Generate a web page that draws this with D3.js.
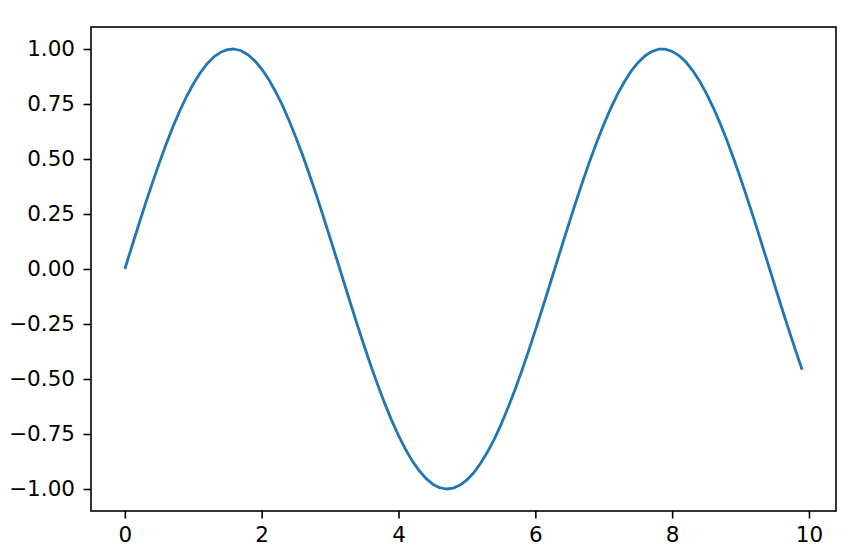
<!DOCTYPE html>
<html>
<head>
<meta charset="utf-8">
<script src="https://cdn.jsdelivr.net/npm/d3@7"></script>
<style>
  body { margin: 0; background: #fff; }
  svg { display: block; }
  .tick text { font-family: "DejaVu Sans", sans-serif; font-size: 21.5px; fill: #000; }
</style>
</head>
<body>
<div id="chart"></div>
<script>
// values, one sample every 0.1 on x
var xValues = [0.0, 0.1, 0.2, 0.3, 0.4, 0.5, 0.6, 0.7, 0.8, 0.9,
    1.0, 1.1, 1.2, 1.3, 1.4, 1.5, 1.6, 1.7, 1.8, 1.9,
    2.0, 2.1, 2.2, 2.3, 2.4, 2.5, 2.6, 2.7, 2.8, 2.9,
    3.0, 3.1, 3.2, 3.3, 3.4, 3.5, 3.6, 3.7, 3.8, 3.9,
    4.0, 4.1, 4.2, 4.3, 4.4, 4.5, 4.6, 4.7, 4.8, 4.9,
    5.0, 5.1, 5.2, 5.3, 5.4, 5.5, 5.6, 5.7, 5.8, 5.9,
    6.0, 6.1, 6.2, 6.3, 6.4, 6.5, 6.6, 6.7, 6.8, 6.9,
    7.0, 7.1, 7.2, 7.3, 7.4, 7.5, 7.6, 7.7, 7.8, 7.9,
    8.0, 8.1, 8.2, 8.3, 8.4, 8.5, 8.6, 8.7, 8.8, 8.9,
    9.0, 9.1, 9.2, 9.3, 9.4, 9.5, 9.6, 9.7, 9.8, 9.9];

var yValues = [0.000, 0.100, 0.199, 0.296, 0.389, 0.479, 0.565, 0.644, 0.717, 0.783,
    0.841, 0.891, 0.932, 0.964, 0.985, 0.997, 1.000, 0.992, 0.974, 0.946,
    0.909, 0.863, 0.808, 0.746, 0.675, 0.598, 0.516, 0.427, 0.335, 0.239,
    0.141, 0.042, -0.058, -0.158, -0.256, -0.351, -0.443, -0.530, -0.612, -0.688,
    -0.757, -0.818, -0.872, -0.916, -0.952, -0.978, -0.994, -1.000, -0.996, -0.982,
    -0.959, -0.926, -0.883, -0.832, -0.773, -0.706, -0.631, -0.551, -0.465, -0.374,
    -0.279, -0.182, -0.083, 0.017, 0.117, 0.215, 0.312, 0.405, 0.494, 0.578,
    0.657, 0.729, 0.794, 0.850, 0.899, 0.938, 0.968, 0.988, 0.999, 0.999,
    0.989, 0.970, 0.941, 0.902, 0.855, 0.798, 0.734, 0.663, 0.585, 0.501,
    0.412, 0.319, 0.223, 0.124, 0.025, -0.075, -0.175, -0.272, -0.366, -0.458];

var xTicks = [0, 2, 4, 6, 8, 10];
var yTicks = [-1.00, -0.75, -0.50, -0.25, 0.00, 0.25, 0.50, 0.75, 1.00];

var width = 853, height = 556;
var margin = { top: 27, right: 17, bottom: 45, left: 91 };

var svg = d3.select("#chart").append("svg").attr("width", width).attr("height", height);

var data = xValues.map(function(x, i) { return [x, yValues[i]]; });

// matplotlib style: 5% padding around the data range
var xPad = (9.9 - 0) * 0.05;
var yPad = (1 - -1) * 0.05;
var xScale = d3.scaleLinear().domain([0 - xPad, 9.9 + xPad]).range([margin.left, width - margin.right]);
var yScale = d3.scaleLinear().domain([-1 - yPad, 1 + yPad]).range([height - margin.bottom, margin.top]);

var line = d3.line().x(d => xScale(d[0])).y(d => yScale(d[1]));

svg.append("path").datum(data).attr("d", line)
    .style("fill", "none").style("stroke", "#1f77b4").style("stroke-width", 2.8)
    .style("stroke-linejoin", "round").style("stroke-linecap", "butt");

var xAxis = d3.axisBottom(xScale).tickValues(xTicks).tickFormat(d3.format("d")).tickSize(7.5).tickPadding(8.5);
var yAxis = d3.axisLeft(yScale).tickValues(yTicks).tickFormat(d3.format(".2f")).tickSize(7.5).tickPadding(8.5);

var gx = svg.append("g").attr("transform", "translate(0," + (height - margin.bottom) + ")").call(xAxis);
var gy = svg.append("g").attr("transform", "translate(" + margin.left + ",0)").call(yAxis);

[gx, gy].forEach(function(g) {
    g.select(".domain").remove();
    g.selectAll(".tick line").style("stroke", "#000").style("stroke-width", 1.6);
});

// frame
svg.append("rect")
    .attr("x", margin.left).attr("y", margin.top)
    .attr("width", width - margin.right - margin.left)
    .attr("height", height - margin.bottom - margin.top)
    .style("fill", "none").style("stroke", "#000").style("stroke-width", 1.6);
</script>
</body>
</html>
